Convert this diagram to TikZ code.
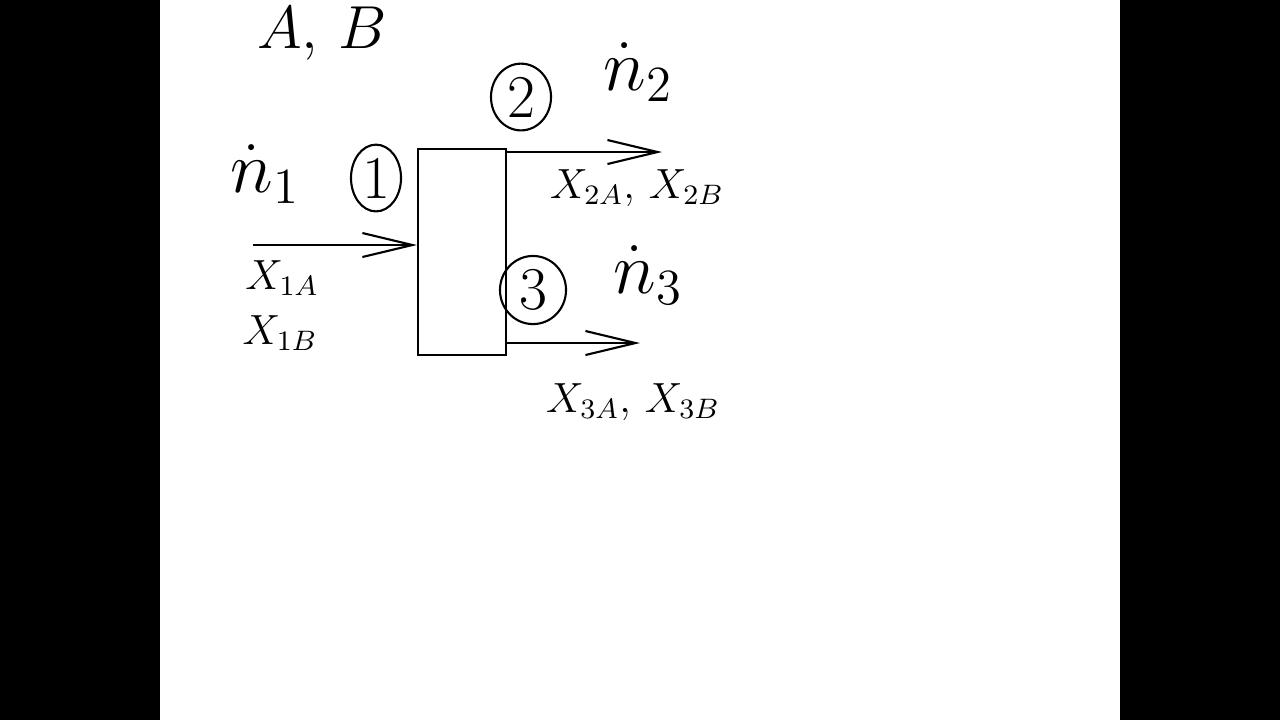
\documentclass[tikz,border=0pt]{standalone}
\usetikzlibrary{arrows.meta,shapes.geometric}

\tikzset{
  stream/.style={semithick, -{Straight Barb[length=5mm,width=2.4mm]}},
  streamno/.style={draw, semithick, ellipse, inner sep=1pt, minimum width=0.5cm, minimum height=0.56cm, font=\LARGE},
  lbl/.style={font=\large}
}

\begin{document}
\begin{tikzpicture}[x=0.01cm,y=-0.01cm]
            \useasboundingbox (0,0) rectangle (1280,720);
            \fill[black] (0,0) rectangle (1280,720);
            \fill[white] (160,0) rectangle (1120,720);

            \node[font=\LARGE] (ab) at (322, 34) {$A,\,B$};

            % the unit
            \node[draw, semithick, minimum width=0.88cm, minimum height=2.06cm] (unit) at (462, 252) {};

            % stream 1
            \node[streamno] (s1) at (376, 178) {1};
            \node[font=\huge] (n1) at (265, 174) {$\dot{n}_1$};
            \node[lbl] (x1a) at (282, 278) {$X_{1A}$};
            \node[lbl] (x1b) at (280, 333) {$X_{1B}$};
            \coordinate (in1) at (253, 245);

            % stream 2
            \node[streamno, minimum width=0.6cm] (s2) at (521, 97) {2};
            \node[font=\huge] (n2) at (638, 72) {$\dot{n}_2$};
            \node[lbl] (x2) at (637, 188) {$X_{2A},\,X_{2B}$};
            \coordinate (out2) at (662, 152);

            % stream 3
            \node[streamno, minimum width=0.66cm] (s3) at (533, 290) {3};
            \node[font=\huge] (n3) at (648, 275) {$\dot{n}_3$};
            \node[lbl] (x3) at (633, 402) {$X_{3A},\,X_{3B}$};
            \coordinate (out3) at (640, 343);

            \draw[stream] (in1) to (unit.west |- in1);
            \draw[stream] (unit.east |- out2) to (out2);
            \draw[stream] (unit.east |- out3) to (out3);
        \end{tikzpicture}
\end{document}
